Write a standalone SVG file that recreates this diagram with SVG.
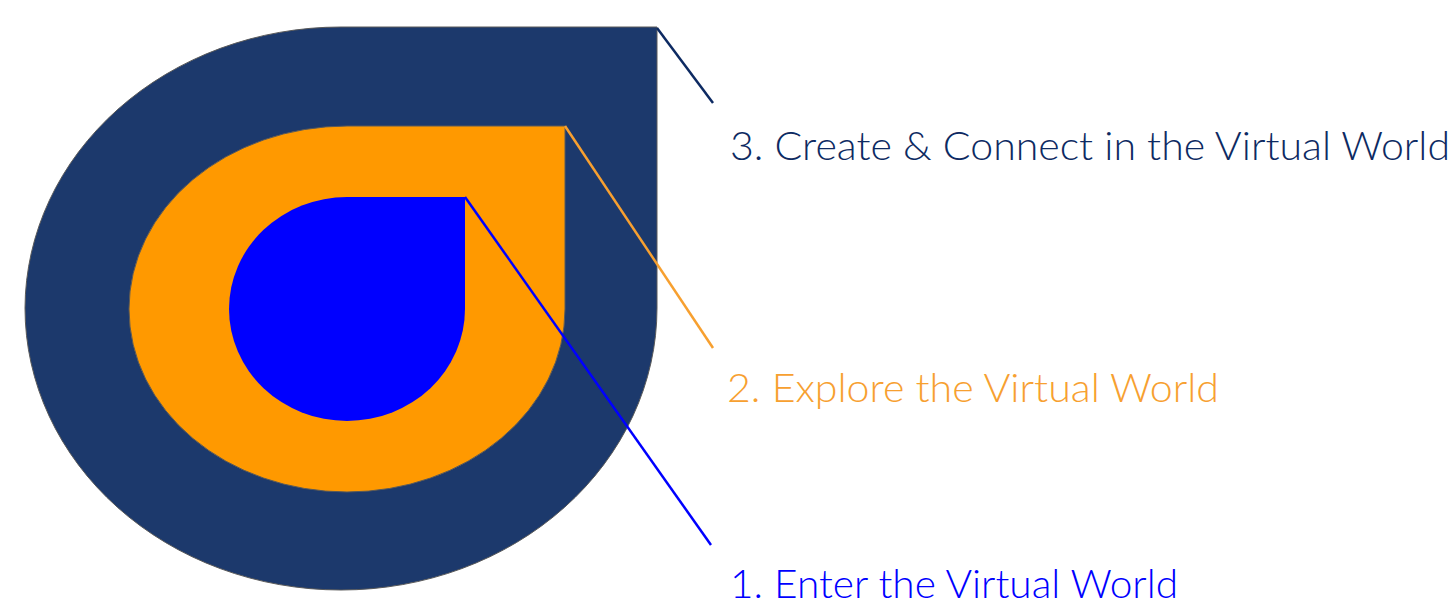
<svg xmlns="http://www.w3.org/2000/svg" width="1456" height="615" viewBox="0 0 1456 615">
<style>
.shape{stroke:#5a5a5a;stroke-width:1}
.lbl{font-family:Lato,"Noto Sans","Liberation Sans",sans-serif;font-size:39px;font-weight:300}
.conn{fill:none;stroke-width:2.5}
</style>
<rect width="1456" height="615" fill="#ffffff"/>
<g id="node-outer">
<path class="shape" fill="#1C396C" d="M 341 27 H 657 V 308 A 316 282 0 0 1 341 590 A 316 282 0 0 1 25 308 A 316 282 0 0 1 341 27 Z"/>
</g>
<g id="node-middle">
<path class="shape" fill="#FF9900" d="M 347 126 H 565 V 309 A 218 183 0 0 1 347 492 A 218 183 0 0 1 129 309 A 218 183 0 0 1 347 126 Z"/>
</g>
<g id="node-inner">
<path fill="#0000FF" d="M 347 197 H 465 V 309 A 118 112 0 0 1 347 421 A 118 112 0 0 1 229 309 A 118 112 0 0 1 347 197 Z"/>
</g>
<g id="connectors">
<line class="conn" x1="657" y1="28" x2="713" y2="103" stroke="#0D2A62"/>
<line class="conn" x1="565" y1="126" x2="713" y2="348" stroke="#F7A030"/>
<line class="conn" x1="465" y1="197" x2="711" y2="545" stroke="#0000FF"/>
</g>
<g id="label-3"><text class="lbl" x="730" y="160" fill="#0D2A62" textLength="720" lengthAdjust="spacingAndGlyphs">3. Create &amp; Connect in the Virtual World</text></g>
<g id="label-2"><text class="lbl" x="727" y="402" fill="#F7A030" textLength="492" lengthAdjust="spacingAndGlyphs">2. Explore the Virtual World</text></g>
<g id="label-1"><text class="lbl" x="730" y="598" fill="#0000FF" textLength="448" lengthAdjust="spacingAndGlyphs">1. Enter the Virtual World</text></g>
</svg>
